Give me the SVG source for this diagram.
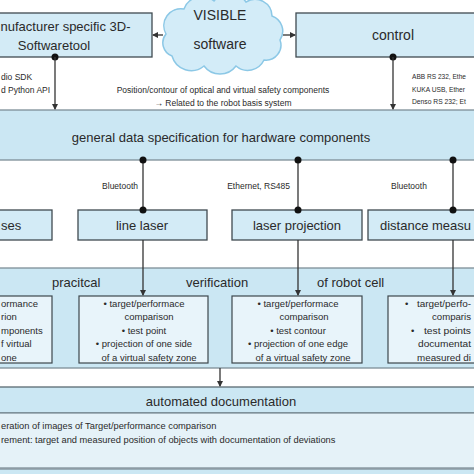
<svg xmlns="http://www.w3.org/2000/svg" width="474" height="474" viewBox="0 0 474 474">
<defs>
<marker id="arr" markerWidth="6" markerHeight="6" refX="5" refY="3" orient="auto" markerUnits="userSpaceOnUse">
<path d="M0,0 L6,3 L0,6 Z" fill="#333"/>
</marker>
<style>
text{font-family:"Liberation Sans",Arial,sans-serif;fill:#2a2a2a}
.t13{font-size:13px}
.t14{font-size:14px}
.lbl{font-size:8.5px}
.rl{font-size:8px}
.inner{font-size:9.5px;text-anchor:middle}
.in{font-size:9.5px}
.bot{font-size:9.3px}
.mid{text-anchor:middle}
.end{text-anchor:end}
.box{fill:#d3ebf6;stroke:#3f4a50;stroke-width:1.3}
.band{fill:#cbe7f3;stroke:#7d8e97;stroke-width:1.3}
.ibox{fill:#e8f4fa;stroke:#3c464c;stroke-width:1.2}
.lite{fill:#e5f2f8;stroke:#7d8e97;stroke-width:1.3}
.con{stroke:#333;stroke-width:1.3;fill:none}
.dot{fill:#111}
</style>
</defs>
<rect width="474" height="474" fill="#ffffff"/>

<g id="software-tool">
<rect class="box" x="-40" y="13" width="192" height="44"/>
<text class="t13" x="0.5" y="31">nufacturer specific 3D-</text>
<text class="t13 mid" x="54" y="50">Softwaretool</text>
</g>

<g id="visible-software">
<path d="M172,56 a14,14 0 0 1 -6,-22 a17,17 0 0 1 18,-25 a19,19 0 0 1 30,-8 a20,20 0 0 1 32,1 a17,17 0 0 1 26,14 a16,16 0 0 1 8,24 a15,15 0 0 1 -16,20 a18,18 0 0 1 -28,6 a20,20 0 0 1 -32,0 a20,20 0 0 1 -32,-10 Z" fill="#d3ecf8" stroke="#8cc8e6" stroke-width="1.5"/>
<text class="t14 mid" x="220" y="20">VISIBLE</text>
<text class="t14 mid" x="220" y="49">software</text>
</g>

<g id="control">
<rect class="box" x="296" y="13" width="190" height="44"/>
<text class="t14 mid" x="393" y="40">control</text>
</g>

<g id="general-data">
<rect class="band" x="-5" y="110" width="484" height="50"/>
<text class="t13 mid" x="221" y="142">general data specification for hardware components</text>
</g>

<g id="glasses">
<rect class="box" x="-80" y="210" width="132" height="30"/>
<text class="t13" x="1" y="230">ses</text>
</g>
<g id="line-laser">
<rect class="box" x="78" y="210" width="129" height="30"/>
<text class="t13 mid" x="142" y="230">line laser</text>
</g>
<g id="laser-projection">
<rect class="box" x="232" y="210" width="130" height="30"/>
<text class="t13 mid" x="297" y="230">laser projection</text>
</g>
<g id="distance-measurement">
<rect class="box" x="368" y="210" width="132" height="30"/>
<text class="t13" x="380" y="230" textLength="91" lengthAdjust="spacingAndGlyphs">distance measu</text>
</g>

<g id="practical-verification">
<rect class="band" x="-5" y="268" width="484" height="100"/>
<text class="t13" x="52" y="287">pracitcal</text>
<text class="t13" x="186" y="287">verification</text>
<text class="t13" x="317" y="287">of robot cell</text>
</g>

<g id="verify-1">
<rect class="ibox" x="-80" y="296" width="132" height="67"/>
<text class="in" x="1" y="306.5">ormance</text>
<text class="in" x="1" y="320">rion</text>
<text class="in" x="1" y="333.5">mponents</text>
<text class="in" x="1" y="347">f virtual</text>
<text class="in" x="1" y="360.5">one</text>
</g>
<g id="verify-2">
<rect class="ibox" x="79" y="296" width="129" height="67"/>
<text class="inner" x="144" y="306.5">•  target/performace</text>
<text class="inner" x="149" y="320">comparison</text>
<text class="inner" x="144" y="333.5">•  test point</text>
<text class="inner" x="144" y="347">•  projection of one side</text>
<text class="inner" x="149" y="360.5">of a virtual safety zone</text>
</g>
<g id="verify-3">
<rect class="ibox" x="232" y="296" width="130" height="67"/>
<text class="inner" x="298" y="306.5">•  target/performace</text>
<text class="inner" x="304" y="320">comparison</text>
<text class="inner" x="298" y="333.5">•  test contour</text>
<text class="inner" x="298" y="347">•  projection of one edge</text>
<text class="inner" x="303" y="360.5">of a virtual safety zone</text>
</g>
<g id="verify-4">
<rect class="ibox" x="388" y="296" width="132" height="67"/>
<text class="in" x="405" y="306.5">•</text>
<text class="in" x="417" y="306.5" textLength="54" lengthAdjust="spacingAndGlyphs">target/perfo-</text>
<text class="in" x="432" y="320" textLength="39" lengthAdjust="spacingAndGlyphs">comparis</text>
<text class="in" x="411" y="333.5">•</text>
<text class="in" x="424" y="333.5" textLength="47" lengthAdjust="spacingAndGlyphs">test points</text>
<text class="in" x="418" y="347" textLength="53" lengthAdjust="spacingAndGlyphs">documentat</text>
<text class="in" x="417" y="360.5" textLength="54" lengthAdjust="spacingAndGlyphs">measured di</text>
</g>

<g id="automated-documentation">
<rect class="band" x="-5" y="387" width="484" height="26" style="stroke:#5a6a72"/>
<text class="t13 mid" x="221" y="406">automated documentation</text>
</g>
<g id="documentation-details">
<rect class="lite" x="-5" y="413" width="484" height="55"/>
<text class="bot" x="1" y="429">eration of images of Target/performance comparison</text>
<text class="bot" x="1" y="443">rement: target and measured position of objects with documentation of deviations</text>
</g>
<g id="next-band">
<rect class="band" x="-5" y="469" width="484" height="20"/>
</g>

<g id="connectors">
<line class="con" x1="163" y1="35" x2="153" y2="35" marker-end="url(#arr)"/>
<line class="con" x1="283" y1="35" x2="295" y2="35" marker-end="url(#arr)"/>
<circle class="dot" cx="55" cy="57" r="3.5"/>
<line class="con" x1="55" y1="57" x2="55" y2="109" marker-end="url(#arr)"/>
<circle class="dot" cx="393" cy="57" r="3.5"/>
<line class="con" x1="393" y1="57" x2="393" y2="109" marker-end="url(#arr)"/>
<line class="con" x1="143" y1="160" x2="143" y2="210"/>
<circle class="dot" cx="143" cy="160" r="3.5"/>
<circle class="dot" cx="143" cy="210" r="3.5"/>
<line class="con" x1="298" y1="160" x2="298" y2="210"/>
<circle class="dot" cx="298" cy="160" r="3.5"/>
<circle class="dot" cx="298" cy="210" r="3.5"/>
<line class="con" x1="453" y1="160" x2="453" y2="210"/>
<circle class="dot" cx="453" cy="160" r="3.5"/>
<circle class="dot" cx="453" cy="210" r="3.5"/>
<line class="con" x1="143" y1="240" x2="143" y2="295" marker-end="url(#arr)"/>
<line class="con" x1="298" y1="240" x2="298" y2="295" marker-end="url(#arr)"/>
<line class="con" x1="453" y1="240" x2="453" y2="295" marker-end="url(#arr)"/>
<line class="con" x1="220" y1="368" x2="220" y2="386" marker-end="url(#arr)"/>
</g>

<g id="labels">
<text class="lbl" x="1" y="80">dio SDK</text>
<text class="lbl" x="1" y="93">d Python API</text>
<text class="lbl mid" x="223" y="93">Position/contour of optical and virtual safety components</text>
<text class="lbl mid" x="223" y="106">→ Related to the robot basis system</text>
<text class="rl" x="412" y="79" textLength="54" lengthAdjust="spacingAndGlyphs">ABB RS 232, Ethe</text>
<text class="rl" x="412" y="92" textLength="53" lengthAdjust="spacingAndGlyphs">KUKA USB, Ether</text>
<text class="rl" x="412" y="104" textLength="54" lengthAdjust="spacingAndGlyphs">Denso RS 232; Et</text>
<text class="lbl end" x="138" y="189">Bluetooth</text>
<text class="lbl end" x="290" y="189">Ethernet, RS485</text>
<text class="lbl" x="391" y="189">Bluetooth</text>
</g>
</svg>
